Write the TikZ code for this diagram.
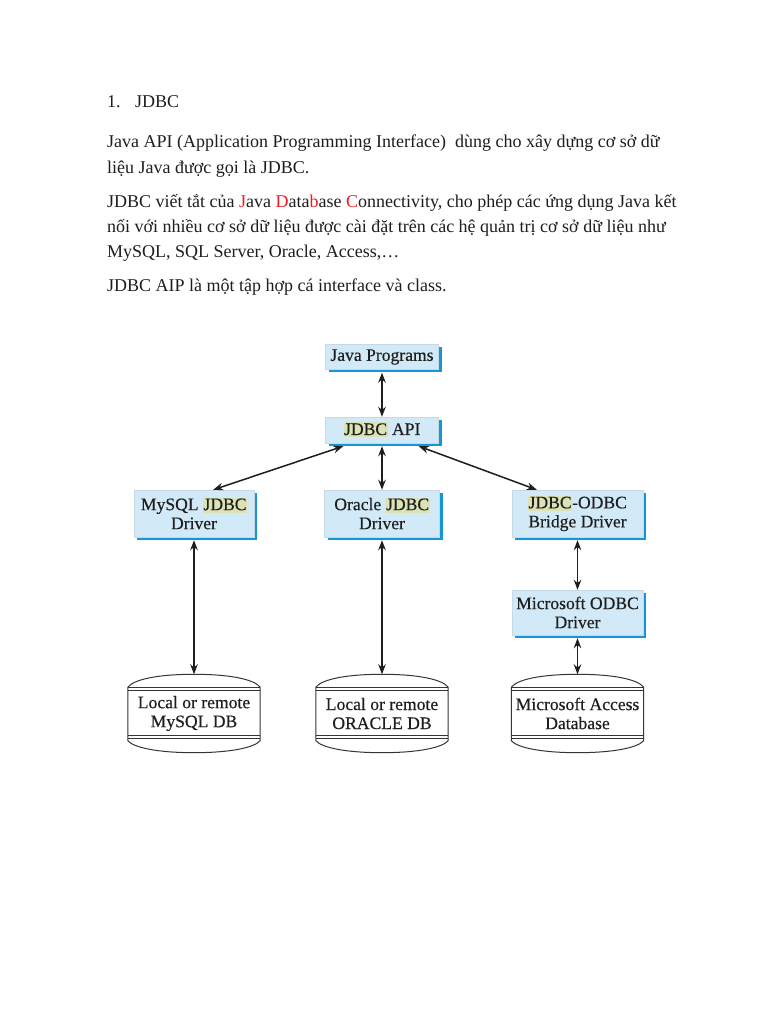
\documentclass[tikz,border=0pt]{standalone}
\usepackage{fontspec}
\setmainfont{Liberation Serif}
\newfontfamily\diagfam[FakeBold=0.35]{Liberation Serif}
\usepackage{xcolor}
\usetikzlibrary{positioning,shadows,arrows.meta}
\definecolor{boxblue}{RGB}{210,234,247}
\definecolor{shadowblue}{RGB}{22,150,212}
\definecolor{hlgreen}{RGB}{220,226,180}
\definecolor{inkgray}{RGB}{30,30,30}
\definecolor{jdbcred}{RGB}{236,28,36}
\newcommand{\diagfont}{\diagfam\fontsize{17.6}{19}\selectfont}
\newcommand{\hlj}[1]{{\setlength{\fboxsep}{0.5pt}\colorbox{hlgreen}{\rule[-2pt]{0pt}{14pt}#1}}}
\tikzset{dbline/.style={draw=inkgray!90, line width=1pt}}
\newcommand{\dbshape}[1]{\draw[dbline] ([yshift=-13pt]#1.north west) .. controls ([xshift=6pt,yshift=-5pt]#1.north west) and ([xshift=-36pt]#1.north) .. (#1.north)
        .. controls ([xshift=36pt]#1.north) and ([xshift=-6pt,yshift=-5pt]#1.north east) .. ([yshift=-13pt]#1.north east)
        -- ([yshift=12pt]#1.south east)
        .. controls ([xshift=-6pt,yshift=5pt]#1.south east) and ([xshift=36pt]#1.south) .. (#1.south)
        .. controls ([xshift=-36pt]#1.south) and ([xshift=6pt,yshift=5pt]#1.south west) .. ([yshift=12pt]#1.south west) -- cycle;
					\draw[dbline] ([yshift=-13pt]#1.north west) -- ([yshift=-13pt]#1.north east);
					\draw[dbline] ([yshift=-16pt]#1.north west) -- ([yshift=-16pt]#1.north east);
					\draw[dbline] ([yshift=17pt]#1.south west) -- ([yshift=17pt]#1.south east);
					\draw[dbline] ([yshift=14pt]#1.south west) -- ([yshift=14pt]#1.south east);}

\begin{document}
\begin{tikzpicture}[x=1pt,y=1pt,
        >={Stealth[length=10pt,width=7.5pt]},
        box/.style={fill=boxblue, draw=boxblue!85!gray, line width=0.4pt,
            general shadow={fill=shadowblue, shadow xshift=3pt, shadow yshift=-3pt},
            inner sep=0pt, align=center, text=inkgray, font=\diagfont},
        dbnode/.style={minimum width=132pt, minimum height=78pt, inner sep=0pt,
            align=center, text=inkgray, font=\diagfont},
        link/.style={<->, line width=1.5pt, draw=inkgray},
        textline/.style={anchor=base west, inner sep=0pt, text=inkgray,
            font=\fontsize{18}{26}\selectfont}]

					\fill[white] (0,0) rectangle (768,1024);
					\useasboundingbox (0,0) rectangle (768,1024);

					% text above the diagram
					\node[textline] (head) at (107,916) {\makebox[28pt][l]{1.}JDBC};
					\node[textline] (apia) at (107,876) {Java API (Application Programming Interface)~ dùng cho xây dựng cơ sở dữ};
					\node[textline] (apib) at (107,850) {liệu Java được gọi là JDBC.};
					\node[textline] (defa) at (107,816) {JDBC viết tắt của \textcolor{jdbcred}{J}ava \textcolor{jdbcred}{D}ata\textcolor{jdbcred}{b}ase \textcolor{jdbcred}{C}onnectivity, cho phép các ứng dụng Java kết};
					\node[textline] (defb) at (107,791) {nối với nhiều cơ sở dữ liệu được cài đặt trên các hệ quản trị cơ sở dữ liệu như};
					\node[textline] (defc) at (107,766) {MySQL, SQL Server, Oracle, Access,…};
					\node[textline] (aip) at (107,732) {JDBC AIP là một tập hợp cá interface và class.};

					% boxes
					\node[box, minimum width=113pt, minimum height=25pt] (java) at (382,667) {\raisebox{-2pt}{Java Programs}};
					\node[box, minimum width=113pt, minimum height=26pt] (api) at (382,594) {\hlj{JDBC} API};

					\node[box, minimum width=120pt, minimum height=47pt] (mysql) at (194,510.5) {MySQL \hlj{JDBC}\\Driver};
					\node[box, minimum width=115pt, minimum height=47pt] (oracle) at (382,510.5) {Oracle \hlj{JDBC}\\Driver};
					\node[box, minimum width=131pt, minimum height=47pt] (bridge) at (577.5,510.5) {\hlj{JDBC}-ODBC\\Bridge Driver};
					\node[box, minimum width=131pt, minimum height=45pt] (odbc) at (577.5,411.5) {Microsoft ODBC\\Driver};

					% databases
					\node[dbnode] (mysqldb) at (194,310.5) {Local or remote\\MySQL DB};
					\node[dbnode] (oracledb) at (382,310.5) {Local or remote\\ORACLE DB};
					\node[dbnode] (accessdb) at (577.5,310.5) {Microsoft Access\\Database};
					\dbshape{mysqldb}
					\dbshape{oracledb}
					\dbshape{accessdb}

					% arrows
					\draw[link] ([yshift=-3pt]java.south) -- (api.north);
					\draw[link] ([xshift=18pt,yshift=-3pt]api.south west) -- ([xshift=-41pt]mysql.north east);
					\draw[link] ([yshift=-3pt]api.south) -- (oracle.north);
					\draw[link] ([xshift=-20pt,yshift=-3pt]api.south east) -- ([xshift=25pt]bridge.north west);
					\draw[link] ([yshift=-3pt]mysql.south) -- (mysqldb.north);
					\draw[link] ([yshift=-3pt]oracle.south) -- (oracledb.north);
					\draw[link] ([yshift=-3pt]bridge.south) -- (odbc.north);
					\draw[link] ([yshift=-3pt]odbc.south) -- (accessdb.north);

				\end{tikzpicture}
\end{document}
